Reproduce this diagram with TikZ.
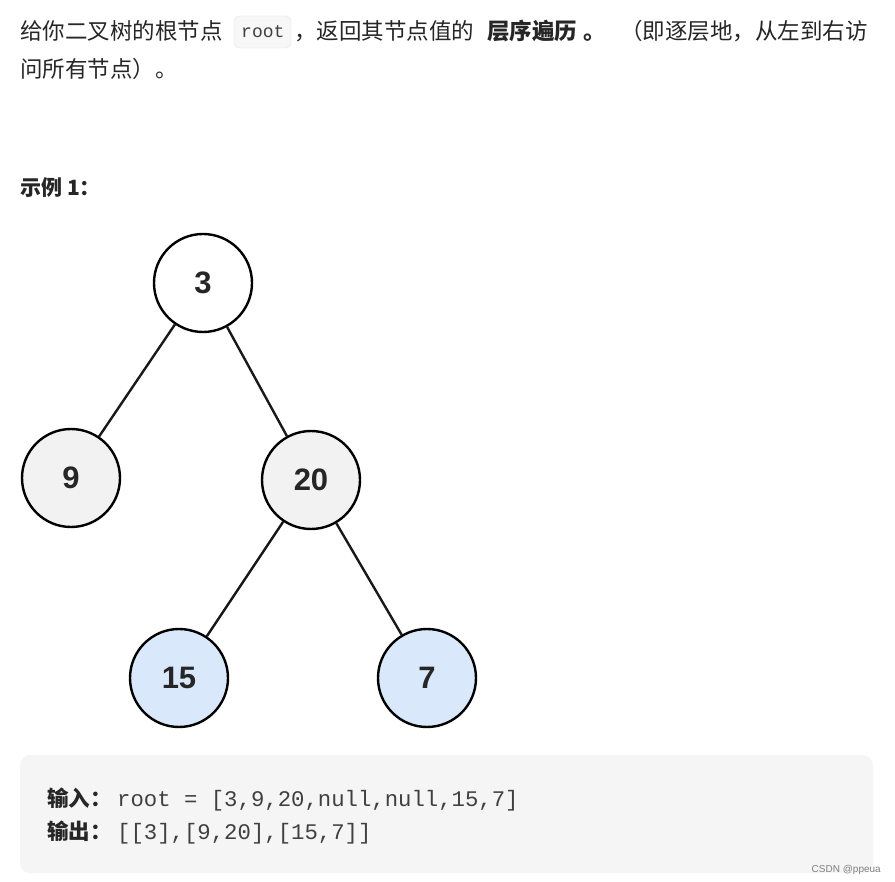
\documentclass[tikz,border=0pt]{standalone}
\usepackage{fontspec}
\setmainfont{Liberation Sans}
\newfontfamily\cjk{Noto Sans CJK SC}
\newfontfamily\codef{Liberation Mono}
\begin{document}
\begin{tikzpicture}[x=1pt,y=-1pt,
  tn/.style={circle,draw=black,line width=2.4pt,minimum size=98pt,inner sep=0pt,font=\fontsize{31}{31}\selectfont\bfseries,text=black!85},
  ed/.style={line width=2.4pt,black!90},
  tx/.style={anchor=base west,inner sep=0pt,font=\cjk\fontsize{22.5}{24}\selectfont,text=black!85},
  cd/.style={anchor=base west,inner sep=0pt,font=\codef\fontsize{22.3}{24}\selectfont,text=black!75}]
\useasboundingbox (0,0) rectangle (895,882);
\fill[white] (0,0) rectangle (895,882);
% header text
\node[tx] (t1) at (20,40) {给你二叉树的根节点};
\draw[fill=black!3,draw=black!10,rounded corners=5pt] (234,16) rectangle (291,48);
\node[cd,font=\codef\fontsize{18}{20}\selectfont] (r) at (241,38) {root};
\node[tx] (t2) at (294,40) {，返回其节点值的};
\node[tx,font=\cjk\fontsize{22.5}{24}\selectfont\bfseries] (t3) at (487,40) {层序遍历};
\node[tx,font=\cjk\fontsize{22.5}{24}\selectfont\bfseries] (t4) at (583,40) {。};
\node[tx] (t5) at (620,40) {（即逐层地，从左到右访};
\node[tx] (t6) at (20,78) {问所有节点）。};
\node[tx,font=\cjk\fontsize{21}{24}\selectfont\bfseries] (ex) at (20,196) {示例 1：};
% tree
\node[tn,fill=white] (n3) at (203,283) {3};
\node[tn,fill=black!5] (n9) at (71,478) {9};
\node[tn,fill=black!5] (n20) at (311,480) {20};
\node[tn,fill={rgb,255:red,218;green,232;blue,252}] (n15) at (179,678) {15};
\node[tn,fill={rgb,255:red,218;green,232;blue,252}] (n7) at (427,678) {7};
\draw[ed] (n3) -- (n9);
\draw[ed] (n3) -- (n20);
\draw[ed] (n20) -- (n15);
\draw[ed] (n20) -- (n7);
% example box
\fill[black!4,rounded corners=10pt] (20,755) rectangle (873,873);
\node[tx,font=\cjk\fontsize{21.5}{24}\selectfont\bfseries] (in) at (47,806) {输入：};
\node[cd] (inv) at (117,806) {root = [3,9,20,null,null,15,7]};
\node[tx,font=\cjk\fontsize{21.5}{24}\selectfont\bfseries] (out) at (47,839) {输出：};
\node[cd] (outv) at (117,839) {[[3],[9,20],[15,7]]};
\node[anchor=base east,inner sep=0pt,font=\fontsize{10}{10}\selectfont,text=black!50] (wm) at (881,872) {CSDN @ppeua};
\end{tikzpicture}
\end{document}
